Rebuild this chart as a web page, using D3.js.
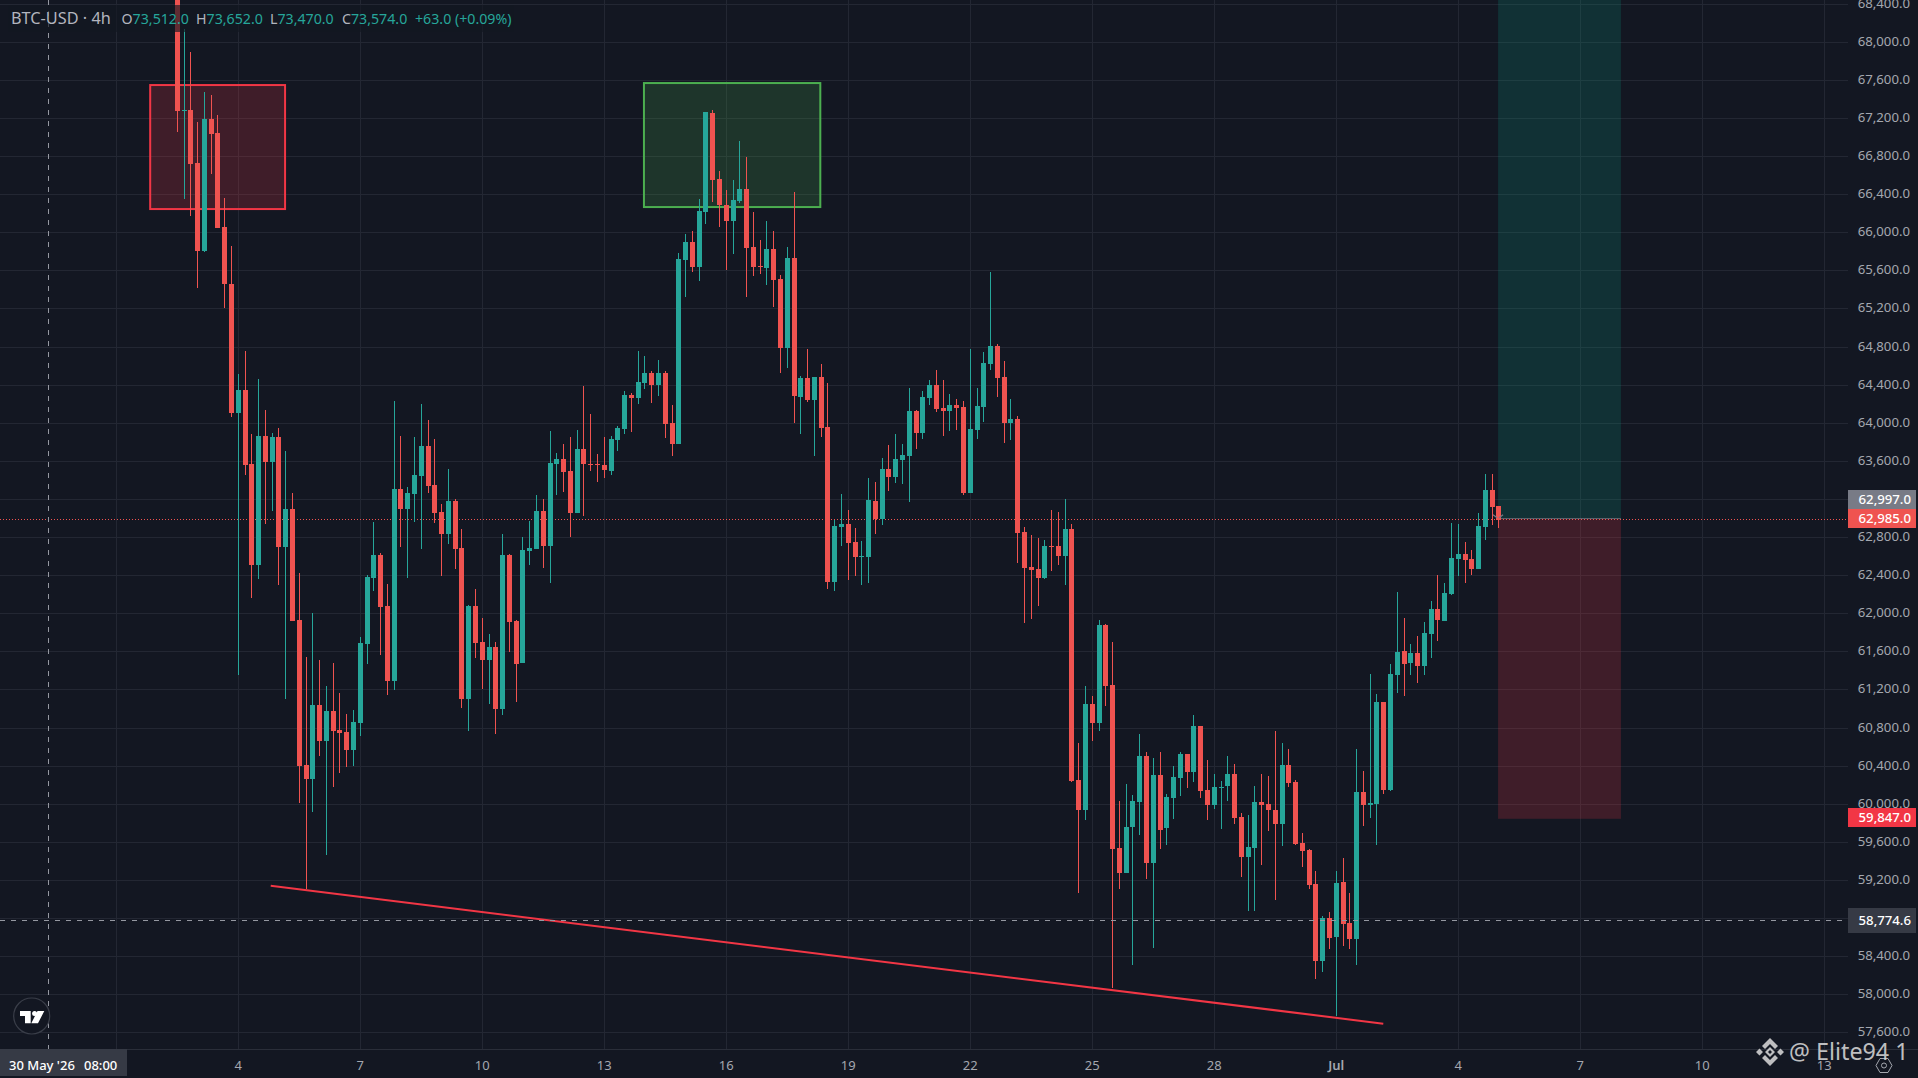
<!DOCTYPE html>
<html>
<head>
<meta charset="utf-8">
<script src="https://cdn.jsdelivr.net/npm/d3@7"></script>
<style>
  html, body { margin: 0; padding: 0; background: #131722; overflow: hidden; }
  text { font-family: "Noto Sans", sans-serif; }
</style>
</head>
<body>
<script>
// 4h candles, bar number counted from 4 Jun 00:00
const firstBar = -9;
const opens = [68800,67282,67289,66732,65808,67194,67047,66060,65462,
  64111,64349,63572,62512,63866,63593,63855,62700,63100,61934,
  60411,60264,61042,60664,60978,60779,60758,60569,60852,61682,
  62375,62616,62081,61293,63309,63100,63257,63446,63761,63351,
  63068,62837,63183,62690,61104,62081,61703,61514,61650,60999,
  62616,61924,61482,62658,62680,63078,62711,63572,63624,63498,
  63057,63729,63572,63572,63561,63498,63824,63940,64297,64265,
  64422,64527,64401,64527,64003,63782,65714,65903,65640,66218,
  67258,66564,66291,66124,66334,66460,65850,65650,65630,65829,
  65514,64790,65735,64275,64475,64244,64485,63961,62333,62910,
  62942,62753,62595,62595,63183,62994,63519,63435,63614,63656,
  64129,63898,64265,64401,64160,64129,64192,64170,63267,63929,
  64170,64622,64811,64485,64003,64045,62858,62490,62470,62375,
  62707,62710,62605,62890,60254,59939,61053,60854,61882,61252,
  59541,59279,59759,60022,60505,59384,60306,59751,60066,60276,
  60528,60337,60820,60149,59991,60175,60190,60318,59864,59444,
  59541,60021,60003,59939,59793,60411,60232,59594,59519,59163,
  58353,58807,58604,59182,58754,58585,60126,59991,60003,61071,
  60149,61357,61608,61484,61589,61450,61788,62050,61923,62208,
  62575,62626,62574,62469,62911,63297,63132];
const highs = [69000,68136,67898,67163,67478,67446,67236,66365,65861,
  64517,64758,63887,64464,64139,63897,63950,63709,63267,62427,
  61546,62007,61514,61241,61482,61167,60947,60989,61755,62406,
  62963,62637,62312,64233,63866,63330,63855,64202,64034,63834,
  63152,63519,63204,62889,62092,62259,61955,61787,61703,62837,
  62627,61934,62805,62973,63246,63204,63918,63687,63782,63855,
  63929,64391,64097,63677,63855,63866,63971,64339,64318,64759,
  64706,64548,64664,64548,64192,65788,65987,66018,66354,67268,
  67289,66648,66449,66554,66964,66796,66218,65924,66124,66018,
  65553,65850,66428,64496,64779,64485,64622,64422,62984,63257,
  63089,62900,62763,63425,63383,63635,63772,63887,63782,64370,
  64139,64339,64454,64559,64454,64307,64254,64233,64780,64370,
  64748,65588,64832,64653,64255,64076,62910,62826,62795,62774,
  63089,63067,63200,62943,60640,61240,61135,61934,61893,61701,
  60033,60213,60097,60738,60546,60486,60546,60108,60400,60546,
  60528,60936,60820,60464,60318,60243,60505,60423,59913,59886,
  60190,60318,60295,60768,60648,60580,60254,59699,59530,59298,
  58825,58866,59298,59436,59073,60580,60348,61368,61158,61071,
  61473,62226,61957,61683,61765,61911,62133,62407,62320,62954,
  62939,62755,62670,63056,63462,63462,63132];
const lows = [67061,66354,66176,65420,65798,66617,66050,65210,64069,
  61356,63456,62165,62365,62942,63078,62302,61104,61924,60012,
  59110,59918,60506,59466,60180,60327,60390,60401,60716,61472,
  62238,61566,61146,61199,62700,62375,62963,62680,63267,62952,
  62396,62732,62470,61010,60768,61535,61209,61052,60737,60936,
  61598,61073,61482,62512,62680,62480,62323,63246,63278,62806,
  63057,63026,63498,63383,63425,63456,63708,63887,63908,64202,
  64359,64212,64286,63845,63656,63782,65326,65588,65493,66092,
  66323,66060,65609,65777,66313,65325,65546,65567,65451,65220,
  64528,64580,64002,63887,64223,63656,63855,62260,62239,62711,
  62354,62396,62301,62322,62837,62931,63288,63372,63362,63173,
  63730,63834,64192,64118,63866,63918,63929,63246,63267,63834,
  64013,64559,64275,63792,63824,62533,61906,61944,62081,62365,
  62447,62515,62305,60232,59073,59838,60666,60768,61030,58071,
  59110,59279,58311,59676,59215,58491,59530,59571,59845,60085,
  60171,60232,60066,59834,59950,59740,60033,59793,59234,58878,
  58878,59361,59718,58994,59560,60179,59571,59339,59110,58165,
  58236,58480,57779,58510,58480,58311,59770,59856,59571,60108,
  60138,61169,61135,61356,61274,61356,61536,61713,61923,62196,
  62395,62321,62405,62469,62775,62935,62899];
const closes = [67282,67285,66725,65808,67194,67037,66050,65462,64111,
  64349,63561,62512,63866,63593,63855,62700,63100,61924,60401,
  60264,61042,60664,60978,60768,60747,60569,60863,61692,62386,
  62616,62070,61293,63309,63100,63267,63456,63761,63341,63057,
  62837,63183,62680,61104,62081,61692,61514,61650,60999,62616,
  61913,61472,62669,62690,63078,62711,63582,63624,63488,63057,
  63729,63572,63565,63565,63509,63834,63950,64297,64265,64433,
  64527,64401,64527,63992,63782,65725,65903,65640,66229,67268,
  66554,66291,66124,66344,66460,65840,65640,65643,65829,65504,
  64790,65735,64286,64475,64244,64485,63950,62333,62921,62942,
  62742,62595,62603,63194,62994,63519,63435,63624,63666,64129,
  63898,64275,64401,64150,64129,64192,64160,63267,63940,64181,
  64632,64811,64475,64003,64045,62848,62480,62459,62375,62711,
  62700,62605,62890,60243,59939,61053,60854,61882,61240,59530,
  59279,59759,60033,60505,59384,60306,59729,60074,60284,60528,
  60337,60820,60138,59991,60179,60183,60318,59856,59444,59549,
  60021,59991,59939,59793,60411,60224,59579,59508,59151,58353,
  58807,58596,59174,58743,58585,60126,59991,60014,61071,60149,
  61368,61596,61473,61589,61450,61799,62050,61934,62219,62586,
  62628,62566,62469,62919,63297,63120,62985];

const priceTicks = d3.range(57600, 68401, 400);
const timeTickBars = [-18, 0, 18, 36, 54, 72, 90, 108, 126, 144, 162, 180, 198, 216, 234];
const timeTickLabels = ["", "4", "7", "10", "13", "16", "19", "22", "25", "28", "Jul", "4", "7", "10", "13"];

const redZone = { bar0: -13, bar1: 6.9, top: 67551, bottom: 66249 };
const greenZone = { bar0: 59.85, bar1: 85.87, top: 67572, bottom: 66270 };
const trendBars = [4.78, 168.93];
const trendPrices = [59144, 57696];
const positionBars = [185.87, 204];
const positionPrices = [69000, 62997, 59847];

const lastPrice = 62985;
const crossBar = -28;
const crossPrice = 58774.6;

const legendTitle = "BTC-USD · 4h";
const legendKeys = ["O", "H", "L", "C"];
const legendValues = ["73,512.0", "73,652.0", "73,470.0", "73,574.0"];
const legendChange = "+63.0 (+0.09%)";

const tagPrices = [62997, 62985, 59847, 58774.6];
const tagTexts = ["62,997.0", "62,985.0", "59,847.0", "58,774.6"];

const width = 1918, height = 1078;
const chartW = 1848, chartH = 1049;
const up = "#26a69a", down = "#ef5350", grid = "#232733";

const svg = d3.select("body").append("svg")
  .attr("width", width).attr("height", height)
  .style("display", "block");

svg.append("rect").attr("width", width).attr("height", height).attr("fill", "#131722");
svg.append("clipPath").attr("id", "pane").append("rect").attr("width", chartW).attr("height", chartH);

const x = d3.scaleLinear().domain([-35.16, 237.5]).range([0, chartW]);
const y = d3.scaleLinear().domain([68444, 57430]).range([0, chartH]);
const px = v => Math.floor(v) + 0.5;

const pane = svg.append("g").attr("clip-path", "url(#pane)");

// grid
pane.selectAll("line.h").data(priceTicks).join("line").attr("class", "h")
  .attr("x1", 0).attr("x2", chartW)
  .attr("y1", d => px(y(d))).attr("y2", d => px(y(d)))
  .attr("stroke", grid);
pane.selectAll("line.v").data(timeTickBars).join("line").attr("class", "v")
  .attr("x1", d => px(x(d))).attr("x2", d => px(x(d)))
  .attr("y1", 0).attr("y2", chartH)
  .attr("stroke", grid);

// position tool
const posX = x(positionBars[0]), posW = x(positionBars[1]) - posX;
pane.append("rect")
  .attr("x", posX).attr("width", posW)
  .attr("y", y(positionPrices[0])).attr("height", y(positionPrices[1]) - y(positionPrices[0]))
  .attr("fill", "#089981").attr("opacity", 0.2);
pane.append("rect")
  .attr("x", posX).attr("width", posW)
  .attr("y", y(positionPrices[1])).attr("height", y(positionPrices[2]) - y(positionPrices[1]))
  .attr("fill", "#f23645").attr("opacity", 0.2);
pane.append("line")
  .attr("x1", posX).attr("x2", posX + posW)
  .attr("y1", px(y(positionPrices[1]))).attr("y2", px(y(positionPrices[1])))
  .attr("stroke", "#787b86").attr("stroke-opacity", 0.7);

// zones
[[redZone, "#f23645"], [greenZone, "#4caf50"]].forEach(([z, c]) => {
  pane.append("rect")
    .attr("x", x(z.bar0)).attr("y", y(z.top))
    .attr("width", x(z.bar1) - x(z.bar0)).attr("height", y(z.bottom) - y(z.top))
    .attr("fill", c).attr("fill-opacity", 0.2)
    .attr("stroke", c).attr("stroke-width", 2);
});

// last price line
pane.append("line")
  .attr("x1", 0).attr("x2", chartW)
  .attr("y1", px(y(lastPrice))).attr("y2", px(y(lastPrice)))
  .attr("stroke", down).attr("stroke-dasharray", "1 2");

// candles
const bars = d3.range(opens.length);
const barX = i => Math.round(x(i + firstBar) - 2.5);
const candles = pane.append("g").attr("shape-rendering", "crispEdges");
candles.selectAll("rect.wick").data(bars).join("rect").attr("class", "wick")
  .attr("x", i => barX(i) + 2).attr("width", 1)
  .attr("y", i => y(highs[i])).attr("height", i => y(lows[i]) - y(highs[i]))
  .attr("fill", i => closes[i] >= opens[i] ? up : down);
candles.selectAll("rect.body").data(bars).join("rect").attr("class", "body")
  .attr("x", barX).attr("width", 5)
  .attr("y", i => y(Math.max(opens[i], closes[i])))
  .attr("height", i => Math.max(1, Math.abs(y(opens[i]) - y(closes[i]))))
  .attr("fill", i => closes[i] >= opens[i] ? up : down);

// little handle of the position tool at the entry point
pane.append("path").attr("fill", "none").attr("stroke", "#787b86").attr("stroke-width", 1.2)
  .attr("d", `M${posX - 5},${y(positionPrices[1]) - 4}l4,3 M${posX + 5},${y(positionPrices[1]) - 4}l-4,3`);

// trend line
pane.append("line")
  .attr("x1", x(trendBars[0])).attr("y1", y(trendPrices[0]))
  .attr("x2", x(trendBars[1])).attr("y2", y(trendPrices[1]))
  .attr("stroke", "#f23645").attr("stroke-width", 2);

// crosshair
pane.append("line")
  .attr("x1", px(x(crossBar))).attr("x2", px(x(crossBar)))
  .attr("y1", 0).attr("y2", chartH)
  .attr("stroke", "#9598a1").attr("stroke-dasharray", "5 6");
pane.append("line")
  .attr("x1", 0).attr("x2", chartW)
  .attr("y1", px(y(crossPrice))).attr("y2", px(y(crossPrice)))
  .attr("stroke", "#9598a1").attr("stroke-dasharray", "5 6");

// legend
svg.append("rect").attr("x", 8).attr("y", 5).attr("width", 506).attr("height", 27)
  .attr("fill", "#131722").attr("opacity", 0.65);
svg.append("text").attr("x", 11).attr("y", 24).attr("font-size", 16.3).attr("fill", "#b2b5be").text(legendTitle);
const legendX = [121.5, 196, 270, 342];
legendKeys.forEach((k, i) => {
  const t = svg.append("text").attr("x", legendX[i]).attr("y", 24).attr("font-size", 14.2);
  t.append("tspan").attr("fill", "#b2b5be").text(k);
  t.append("tspan").attr("fill", up).text(legendValues[i]);
});
svg.append("text").attr("x", 415).attr("y", 24).attr("font-size", 14.2).attr("fill", up).text(legendChange);

// tradingview logo
svg.append("circle").attr("cx", 31.7).attr("cy", 1016).attr("r", 18)
  .attr("fill", "#131722").attr("stroke", "#3a3e49").attr("stroke-width", 1.2);
svg.append("path").attr("fill", "#fff")
  .attr("d", "M20,1011H30.7V1023.3H25V1016H20Z M37.5,1011H44.3L38,1023.3H31.3Z");
svg.append("circle").attr("cx", 34.6).attr("cy", 1013.4).attr("r", 2.5).attr("fill", "#fff");

// axes panes
svg.append("rect").attr("x", chartW).attr("width", width - chartW).attr("height", chartH).attr("fill", "#131722");
svg.append("rect").attr("y", chartH).attr("width", width).attr("height", height - chartH).attr("fill", "#131722");
svg.append("line").attr("x1", 0).attr("x2", width).attr("y1", chartH + 0.5).attr("y2", chartH + 0.5).attr("stroke", "#2a2e39");

svg.selectAll("text.p").data(priceTicks).join("text").attr("class", "p")
  .attr("x", 1910).attr("y", d => y(d) + 3.5)
  .attr("text-anchor", "end").attr("font-size", 13.2).attr("fill", "#a4a7af")
  .text(d => d3.format(",.1f")(d));

svg.selectAll("text.t").data(timeTickBars.map((b, i) => ({ b, l: timeTickLabels[i] }))).join("text").attr("class", "t")
  .attr("x", d => x(d.b)).attr("y", 1070)
  .attr("text-anchor", "middle").attr("font-size", 13).attr("fill", "#a4a7af")
  .attr("font-weight", d => d.l == "Jul" ? 600 : 400)
  .text(d => d.l);

// price tags
const tagFill = ["#787b86", "#ef5350", "#f23645", "#363a45"];
const tagTop = [490, 509, 808, 908];
const tagH = [19, 19, 19, 25];
tagPrices.forEach((p, i) => {
  svg.append("rect").attr("x", chartW).attr("y", tagTop[i]).attr("width", 68).attr("height", tagH[i]).attr("fill", tagFill[i]);
  svg.append("text").attr("x", 1911).attr("y", tagTop[i] + tagH[i] / 2 + 4.5)
    .attr("text-anchor", "end").attr("font-size", 13.2).attr("font-weight", 500).attr("fill", "#fff")
    .text(tagTexts[i]);
});

// crosshair time tag
svg.append("rect").attr("x", 0).attr("y", chartH).attr("width", 127).attr("height", 27).attr("fill", "#363a45");
svg.append("text").attr("x", 9).attr("y", 1070).attr("font-size", 13).attr("font-weight", 500).attr("fill", "#fff").text("30 May '26");
svg.append("text").attr("x", 84).attr("y", 1070).attr("font-size", 13).attr("font-weight", 500).attr("fill", "#fff").text("08:00");

// settings icon
svg.append("path").attr("fill", "none").attr("stroke", "#a4a7af").attr("stroke-width", 1)
  .attr("d", "M1876,1065.5L1880,1058.5H1888L1892,1065.5L1888,1072.5H1880Z");
svg.append("circle").attr("cx", 1884).attr("cy", 1065.5).attr("r", 2.5).attr("fill", "none").attr("stroke", "#a4a7af");

// watermark
const mark = svg.append("g").attr("fill", "#d6d6d6").attr("opacity", 0.88);
mark.append("path").attr("fill-rule", "evenodd").attr("d",
  "M1770,1038l8,8l-3,3l-5,-5l-5,5l-3,-3z" +
  "M1770,1066l8,-8l-3,-3l-5,5l-5,-5l-3,3z" +
  "M1756,1052l3.5,-3.5l3.5,3.5l-3.5,3.5z M1777,1052l3.5,-3.5l3.5,3.5l-3.5,3.5z" +
  "M1770,1047l5,5l-5,5l-5,-5z M1770,1050l-2,2l2,2l2,-2z");
mark.append("text").attr("x", 1789).attr("y", 1060).attr("font-size", 23.3).text("@ Elite94 1");
</script>
</body>
</html>
